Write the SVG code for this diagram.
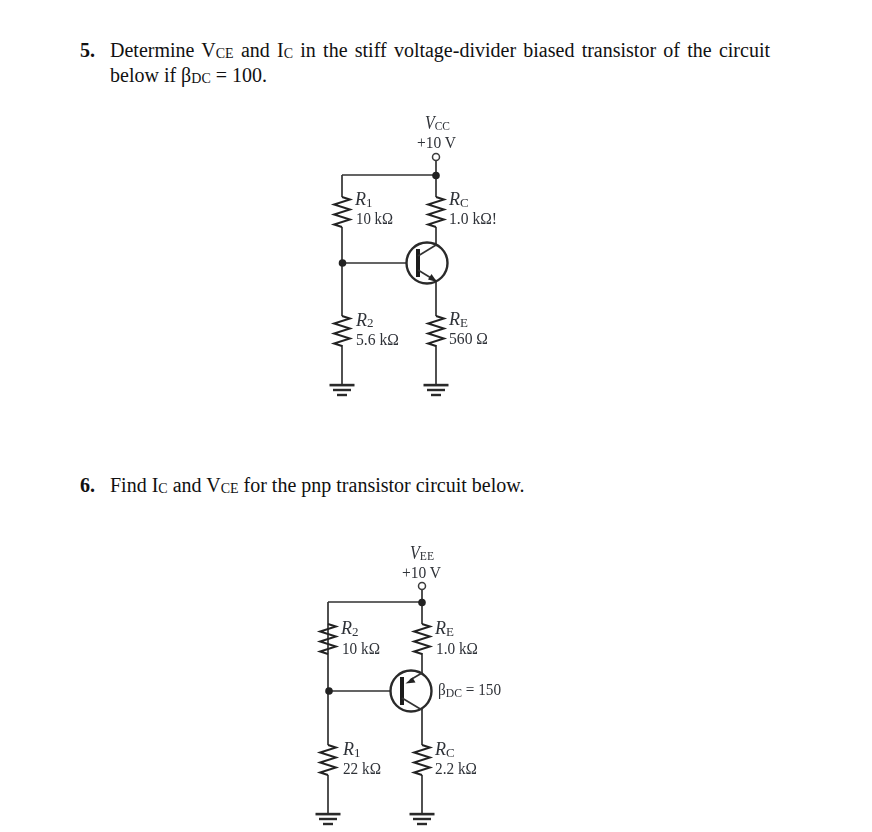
<svg xmlns="http://www.w3.org/2000/svg" width="872" height="832" viewBox="0 0 872 832">
<style>
.q{font-family:"Liberation Serif","Times New Roman",serif;font-size:20px;fill:#111}
.qb{font-weight:bold}
.qs{font-size:14px}
.c{font-family:"Liberation Serif","Times New Roman",serif;font-size:17px;fill:#2f3238}
.l{font-size:18px}
.i{font-style:italic}
.sc{font-size:13px}
.w{fill:none;stroke:#333;stroke-width:1.7}
.z{fill:none;stroke:#222;stroke-width:1.9}
.d{fill:#222}
.o{fill:#fff;stroke:#3a3a3a;stroke-width:1.5}
.ring{fill:none;stroke:#2a2a2a;stroke-width:2.400}
.bar{fill:#1c1c1c}
.soft{filter:url(#soft)}
</style>
<defs>
<filter id="soft" x="-5%" y="-5%" width="110%" height="110%"><feGaussianBlur stdDeviation="0.35"/></filter>
<path id="res" class="z" d="M0 0l8 2.500-16 5 16 5-16 5 16 5-16 5 8 2.500"/>
<g id="gnd"><path class="w" d="M0 -6V0"/><rect x="-12.500" y="-1.200" width="25" height="2.600" fill="#2a2a2a"/><rect x="-9" y="3.800" width="18" height="2.400" fill="#2a2a2a"/><rect x="-5" y="8.800" width="10" height="2.400" fill="#2a2a2a"/></g>
</defs>

<g id="question-5">
<text class="q qb" x="80" y="57">5.</text>
<text class="q" x="110" y="57" style="word-spacing:2.250px">Determine V<tspan class="qs" dy="1">CE</tspan><tspan dy="-1"> and I</tspan><tspan class="qs" dy="1">C</tspan><tspan dy="-1"> in the stiff voltage-divider biased transistor of the circuit</tspan></text>
<text class="q" x="110" y="82">below if β<tspan class="qs" dy="1">DC</tspan><tspan dy="-1"> = 100.</tspan></text>
</g>
<g id="question-6">
<text class="q qb" x="80" y="492">6.</text>
<text class="q" x="110" y="492">Find I<tspan class="qs" dy="1">C</tspan><tspan dy="-1"> and V</tspan><tspan class="qs" dy="1">CE</tspan><tspan dy="-1"> for the pnp transistor circuit below.</tspan></text>
</g>

<g class="soft">
<g id="connectors">
<path class="w" d="M436 161V197M342 175H436M342 175V197M342 227V316M342 263H406M436 227V245M436 281V316M342 345V379M436 345V379"/>
<path class="w" d="M422 590V624M328 602H422M328 602V745M328 691H390M422 653V673M422 709V745M328 775V808M422 775V808"/>
</g>

<g id="vcc"><text class="c" x="425" y="129" textLength="25" lengthAdjust="spacingAndGlyphs"><tspan class="i l">V</tspan><tspan class="sc" dy="1">CC</tspan></text><text class="c" x="417" y="148" textLength="39" lengthAdjust="spacingAndGlyphs">+10 V</text><circle class="o" cx="436" cy="157" r="3.500"/></g>
<g id="j1"><circle class="d" cx="436" cy="175.500" r="3.800"/></g>
<g id="j2"><circle class="d" cx="342.500" cy="263" r="3.800"/></g>
<g id="r1"><use href="#res" x="342" y="197"/><text class="c" x="355" y="205"><tspan class="i l">R</tspan><tspan class="sc" dy="1.500">1</tspan></text><text class="c" x="356" y="224" textLength="37" lengthAdjust="spacingAndGlyphs">10 kΩ</text></g>
<g id="rc"><use href="#res" x="436" y="197"/><text class="c" x="449" y="205"><tspan class="i l">R</tspan><tspan class="sc" dy="1.500">C</tspan></text><text class="c" x="449" y="224" textLength="48" lengthAdjust="spacingAndGlyphs">1.0 kΩ!</text></g>
<g id="q1"><circle class="ring" cx="427" cy="263" r="20.500"/><rect class="bar" x="416" y="249" width="4" height="28"/><path class="w" d="M418 256L436 245M418 270L436 281"/><path class="d" d="M437 282L428 279.500L431.500 274Z"/></g>
<g id="r2"><use href="#res" x="342" y="316"/><text class="c" x="356" y="326"><tspan class="i l">R</tspan><tspan class="sc" dy="1">2</tspan></text><text class="c" x="356" y="345" textLength="43" lengthAdjust="spacingAndGlyphs">5.6 kΩ</text></g>
<g id="re"><use href="#res" x="436" y="316"/><text class="c" x="449" y="325"><tspan class="i l">R</tspan><tspan class="sc" dy="1.500">E</tspan></text><text class="c" x="449" y="344" textLength="39" lengthAdjust="spacingAndGlyphs">560 Ω</text></g>
<g id="g1"><use href="#gnd" x="342" y="385"/></g>
<g id="g2"><use href="#gnd" x="436" y="385"/></g>

<g id="vee"><text class="c" x="410" y="559" textLength="24" lengthAdjust="spacingAndGlyphs"><tspan class="i l">V</tspan><tspan class="sc" dy="1">EE</tspan></text><text class="c" x="402" y="578" textLength="39" lengthAdjust="spacingAndGlyphs">+10 V</text><circle class="o" cx="422" cy="586" r="3.500"/></g>
<g id="j3"><circle class="d" cx="422" cy="602.500" r="3.800"/></g>
<g id="j4"><circle class="d" cx="329" cy="691" r="3.800"/></g>
<g id="r2b"><use href="#res" x="328" y="624"/><text class="c" x="341" y="634"><tspan class="i l">R</tspan><tspan class="sc" dy="1.500">2</tspan></text><text class="c" x="342" y="654" textLength="38" lengthAdjust="spacingAndGlyphs">10 kΩ</text></g>
<g id="reb"><use href="#res" x="422" y="624"/><text class="c" x="435" y="634"><tspan class="i l">R</tspan><tspan class="sc" dy="1.500">E</tspan></text><text class="c" x="436" y="654" textLength="42" lengthAdjust="spacingAndGlyphs">1.0 kΩ</text></g>
<g id="q2"><circle class="ring" cx="411" cy="691" r="20.500"/><rect class="bar" x="400" y="677" width="4" height="28"/><path class="w" d="M402 698L422 710M422 673L410 680"/><path class="d" d="M405.500 683.500L412.500 677.500L415.500 682.500Z"/><text class="c" x="438" y="695" textLength="63" lengthAdjust="spacingAndGlyphs">β<tspan class="sc" dy="2">DC</tspan><tspan dy="-2"> = 150</tspan></text></g>
<g id="r1b"><use href="#res" x="328" y="745"/><text class="c" x="343" y="755"><tspan class="i l">R</tspan><tspan class="sc" dy="1.500">1</tspan></text><text class="c" x="343" y="774" textLength="38" lengthAdjust="spacingAndGlyphs">22 kΩ</text></g>
<g id="rcb"><use href="#res" x="422" y="745"/><text class="c" x="435" y="755"><tspan class="i l">R</tspan><tspan class="sc" dy="1.500">C</tspan></text><text class="c" x="435" y="774" textLength="42" lengthAdjust="spacingAndGlyphs">2.2 kΩ</text></g>
<g id="g3"><use href="#gnd" x="328" y="814"/></g>
<g id="g4"><use href="#gnd" x="422" y="814"/></g>
</g>
</svg>
